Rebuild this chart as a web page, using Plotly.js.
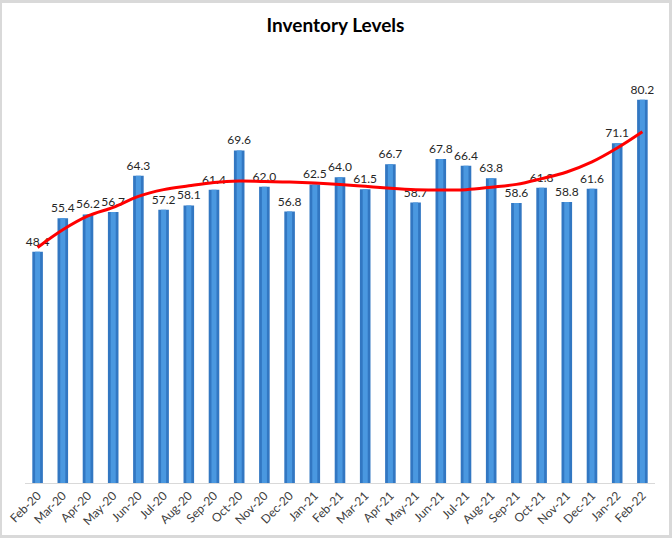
<!DOCTYPE html>
<html>
<head>
<meta charset="utf-8">
<script src="https://cdn.plot.ly/plotly-3.0.1.min.js"></script>
<style>
  html, body { margin: 0; padding: 0; background: #ffffff; }
  #frame { width: 672px; height: 538px; box-sizing: border-box; border-style: solid; border-color: #d9d9d9; border-width: 3px 3px 3px 2px; background: #fff; }
  #chart { width: 667px; height: 532px; }
</style>
</head>
<body>
<div id="frame"><div id="chart"></div></div>
<script>
const months = ["Feb-20","Mar-20","Apr-20","May-20","Jun-20","Jul-20","Aug-20","Sep-20","Oct-20","Nov-20","Dec-20",
  "Jan-21","Feb-21","Mar-21","Apr-21","May-21","Jun-21","Jul-21","Aug-21","Sep-21","Oct-21","Nov-21","Dec-21",
  "Jan-22","Feb-22"];
const inventory = [48.4,55.4,56.2,56.7,64.3,57.2,58.1,61.4,69.6,62.0,56.8,62.5,64.0,61.5,66.7,58.7,67.8,66.4,63.8,58.6,61.8,58.8,61.6,71.1,80.2];
const trend = [49.3,53.0,55.9,57.7,60.0,61.4,62.2,62.9,63.2,63.1,63.0,62.8,62.5,62.1,61.7,61.4,61.3,61.4,61.9,62.5,63.7,65.1,67.2,70.1,73.5];

const fontFam = "Lato, 'Open Sans', sans-serif";

const traces = [
  {
    type: "bar", x: months, y: inventory, width: 0.42,
    marker: { color: "#3277c2", line: { width: 0 } },
    text: inventory.map(v => v.toFixed(1)), textposition: "outside",
    constraintext: "none", textangle: 0,
    textfont: { family: fontFam, size: 12, color: "#262626" },
    cliponaxis: false, hoverinfo: "x+y", showlegend: false
  },
  {
    type: "bar", x: months, y: inventory, width: 0.2,
    marker: { color: "#4a98e0", line: { width: 0 } },
    hoverinfo: "skip", showlegend: false
  },
  {
    type: "scatter", mode: "lines", x: months, y: trend,
    line: { color: "#ff0000", width: 3, shape: "spline", smoothing: 1 },
    hoverinfo: "skip", showlegend: false
  }
];

const layout = {
  width: 667, height: 532,
  margin: { l: 23.4, r: 14.4, t: 50, b: 51.6 },
  paper_bgcolor: "#ffffff", plot_bgcolor: "#ffffff",
  barmode: "overlay",
  title: {
    text: "<b>Inventory Levels</b>",
    font: { family: fontFam, size: 19, color: "#000000" },
    xref: "container", yref: "container", x: 0.5, xanchor: "center",
    y: 1 - 22 / 532, yanchor: "middle"
  },
  xaxis: {
    type: "category", tickangle: -45,
    tickfont: { family: fontFam, size: 12, color: "#404040" },
    showline: true, linecolor: "#d9d9d9", linewidth: 1,
    ticks: "", showgrid: false, zeroline: false, fixedrange: true
  },
  yaxis: {
    range: [0, 90], visible: false, showgrid: false, zeroline: false, fixedrange: true
  }
};

Plotly.newPlot("chart", traces, layout, { displayModeBar: false, staticPlot: true });
</script>
</body>
</html>
